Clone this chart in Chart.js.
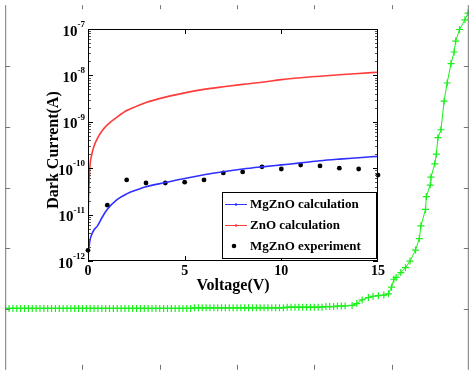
<!DOCTYPE html>
<html>
<head>
<meta charset="utf-8">
<script src="https://cdn.jsdelivr.net/npm/chart.js@4.4.0/dist/chart.umd.min.js"></script>
<style>
  html, body { margin: 0; padding: 0; background: #fff; }
  #wrap { position: relative; width: 474px; height: 375px; overflow: hidden; }
  #wrap canvas { position: absolute; left: 0; top: 0; }
</style>
</head>
<body>
<div id="wrap">
  <canvas id="outerChart" width="474" height="375"></canvas>
  <canvas id="innerChart" width="474" height="375"></canvas>
</div>
<script>
        // outer trace (only the curve and the bare axes are visible in the crop)
        const outerV = [
            0, 0.05, 0.1, 0.15, 0.2, 0.25, 0.3, 0.35, 0.4, 0.45, 0.5, 0.55, 0.6, 0.65, 0.7, 0.75, 0.8, 0.85, 0.9, 0.95,
            1.0, 1.05, 1.1, 1.15, 1.2, 1.25, 1.3, 1.35, 1.4, 1.45, 1.5, 1.55, 1.6, 1.65, 1.7, 1.75, 1.8, 1.85, 1.9, 1.95,
            2.0, 2.05, 2.1, 2.15, 2.2, 2.25, 2.3, 2.35, 2.4, 2.45, 2.5, 2.55, 2.6, 2.65, 2.7, 2.75, 2.8, 2.85, 2.9, 2.95,
            3.0, 3.05, 3.1, 3.15, 3.2, 3.25, 3.3, 3.35, 3.4, 3.45, 3.5, 3.55, 3.6, 3.65, 3.7, 3.75, 3.8, 3.85, 3.9, 3.95,
            4.0, 4.05, 4.1, 4.15, 4.2, 4.25, 4.3, 4.35, 4.4,
            4.49, 4.55, 4.62, 4.7, 4.76, 4.83, 4.9, 4.96, 5.0, 5.03, 5.06, 5.12, 5.18, 5.24, 5.31, 5.36, 5.38,
            5.44, 5.45, 5.5, 5.51, 5.56, 5.58, 5.6, 5.64, 5.68, 5.72, 5.77, 5.81, 5.83, 5.88, 5.95, 5.99, 6.04];
        const outerI = [
            1.01, 1.01, 1.01, 1.01, 1.01, 1.01, 1.01, 1.01, 1.01, 1.01, 1.01, 1.01, 1.01, 1.01, 1.01, 1.01, 1.01, 1.01, 1.01, 1.01,
            1.01, 1.01, 1.01, 1.01, 1.01, 1.01, 1.01, 1.01, 1.01, 1.01, 1.01, 1.01, 1.01, 1.01, 1.01, 1.01, 1.01, 1.01, 1.01, 1.01,
            1.01, 1.01, 1.01, 1.01, 1.01, 1.01, 1.01, 1.01, 1.01, 1.02, 1.02, 1.02, 1.02, 1.02, 1.02, 1.02, 1.02, 1.02, 1.02, 1.02,
            1.02, 1.02, 1.02, 1.02, 1.02, 1.02, 1.02, 1.02, 1.02, 1.02, 1.02, 1.02, 1.02, 1.03, 1.03, 1.03, 1.03, 1.03, 1.03, 1.03,
            1.03, 1.03, 1.03, 1.04, 1.04, 1.04, 1.05, 1.05, 1.05,
            1.06, 1.09, 1.15, 1.19, 1.21, 1.22, 1.23, 1.25, 1.36, 1.49, 1.52, 1.6, 1.68, 1.79, 1.97, 2.16, 2.37,
            2.64, 2.85, 3.04, 3.17, 3.39, 3.55, 3.82, 3.95, 4.42, 4.72, 5.04, 5.23, 5.41, 5.6, 5.76, 5.87, 6.0];
        const outerXTicks = [1, 2, 3, 4, 5];
        const outerYTicks = [1, 2, 3, 4, 5];

        // inset: dark current vs voltage
        const calcV = [0, 0.01, 0.02, 0.05, 0.1, 0.2, 0.3, 0.5, 0.75, 1, 1.5, 2, 2.5, 3, 4, 5, 6, 7, 8, 9, 10, 11, 12, 13, 14, 15];
        const mgznoCalc = [1.1e-12, 1.5e-12, 1.7e-12, 2.0e-12, 2.8e-12, 3.8e-12, 4.6e-12, 5.8e-12, 9e-12, 1.3e-11, 2.1e-11,
            2.8e-11, 3.4e-11, 4.0e-11, 4.9e-11, 6.0e-11, 7.2e-11, 8.4e-11, 9.6e-11, 1.07e-10, 1.18e-10, 1.3e-10,
            1.45e-10, 1.57e-10, 1.68e-10, 1.8e-10];
        const znoCalc = [1.0e-12, 8e-12, 1.6e-11, 4.0e-11, 1.1e-10, 2.0e-10, 2.9e-10, 4.5e-10, 6.6e-10, 8.6e-10, 1.26e-9,
            1.75e-9, 2.15e-9, 2.6e-9, 3.4e-9, 4.2e-9, 5.0e-9, 5.7e-9, 6.4e-9, 7.1e-9, 8.1e-9, 8.9e-9, 9.6e-9,
            1.03e-8, 1.1e-8, 1.17e-8];
        const expV = [0, 1, 2, 3, 4, 5, 6, 7, 8, 9, 10, 11, 12, 13, 14, 15];
        const mgznoExp = [1.7e-12, 1.6e-11, 5.6e-11, 4.8e-11, 4.8e-11, 5.0e-11, 5.6e-11, 7.9e-11, 8.3e-11, 1.07e-10,
            9.6e-11, 1.17e-10, 1.12e-10, 1.0e-10, 9.6e-11, 7.1e-11];
        const insetXTicks = [0, 5, 10, 15];
        const insetYExponents = [-12, -11, -10, -9, -8, -7];
        const legendLabels = ['MgZnO calculation', 'ZnO calculation', 'MgZnO experiment'];

        const BLUE = '#2f2fff';
        const RED = '#ff3b3b';
        const GREEN = '#19f019';
        const SERIF = '"Liberation Serif", "Times New Roman", serif';

        const toPoints = (xs, ys) => xs.map((x, i) => ({ x: x, y: ys[i] }));

        // bare grey frame with inward ticks, like the cropped MATLAB axes
        const outerFrame = {
            id: 'outerFrame',
            afterDraw(chart) {
                const { ctx, chartArea: a, scales } = chart;
                ctx.save();
                ctx.strokeStyle = '#767676';
                ctx.lineWidth = 1;
                ctx.beginPath();
                ctx.moveTo(a.left + 0.5, a.top); ctx.lineTo(a.left + 0.5, a.bottom);
                ctx.moveTo(a.right - 0.5, a.top); ctx.lineTo(a.right - 0.5, a.bottom);
                outerXTicks.forEach(v => {
                    const x = Math.round(scales.x.getPixelForValue(v)) + 0.5;
                    ctx.moveTo(x, a.top); ctx.lineTo(x, a.top + 4);
                    ctx.moveTo(x, a.bottom); ctx.lineTo(x, a.bottom - 5);
                });
                outerYTicks.forEach(v => {
                    const y = Math.round(scales.y.getPixelForValue(v)) + 0.5;
                    ctx.moveTo(a.left, y); ctx.lineTo(a.left + 5, y);
                    ctx.moveTo(a.right, y); ctx.lineTo(a.right - 5, y);
                });
                ctx.stroke();
                ctx.restore();
            }
        };

        new Chart(document.getElementById('outerChart'), {
            type: 'line',
            data: {
                datasets: [{
                    data: toPoints(outerV, outerI),
                    borderColor: GREEN,
                    borderWidth: 1,
                    pointStyle: 'cross',
                    pointRadius: 3.5,
                    pointBorderColor: GREEN,
                    pointBorderWidth: 1.2,
                    fill: false,
                    tension: 0
                }]
            },
            options: {
                responsive: false,
                animation: false,
                events: [],
                layout: { padding: { left: 3, right: 3, top: 0, bottom: 0 } },
                plugins: { legend: { display: false }, tooltip: { enabled: false } },
                scales: {
                    x: { type: 'linear', min: 0, max: 6, display: false },
                    y: { type: 'linear', min: 0, max: 6, display: false }
                }
            },
            plugins: [outerFrame]
        });

        // inset axes: white box, black frame, log ticks, labels and legend
        const insetFrame = {
            id: 'insetFrame',
            beforeDraw(chart) {
                const { ctx, chartArea: a } = chart;
                ctx.save();
                ctx.fillStyle = '#fff';
                ctx.fillRect(a.left, a.top, a.right - a.left, a.bottom - a.top);
                ctx.restore();
            },
            afterDraw(chart) {
                const { ctx, chartArea: a, scales } = chart;
                const xs = scales.x, ys = scales.y;
                ctx.save();
                ctx.strokeStyle = '#000';
                ctx.lineWidth = 1;
                ctx.beginPath();
                insetXTicks.slice(1, -1).forEach(v => {
                    const x = Math.round(xs.getPixelForValue(v)) + 0.5;
                    ctx.moveTo(x, a.bottom); ctx.lineTo(x, a.bottom - 5);
                    ctx.moveTo(x, a.top); ctx.lineTo(x, a.top + 5);
                });
                insetYExponents.forEach(e => {
                    const y = Math.round(ys.getPixelForValue(Math.pow(10, e))) + 0.5;
                    ctx.moveTo(a.left, y); ctx.lineTo(a.left + 5, y);
                    ctx.moveTo(a.right, y); ctx.lineTo(a.right - 5, y);
                });
                ctx.stroke();
                ctx.strokeStyle = '#555';
                ctx.beginPath();
                insetYExponents.slice(0, -1).forEach(e => {
                    for (let m = 2; m <= 9; m++) {
                        const y = Math.round(ys.getPixelForValue(m * Math.pow(10, e))) + 0.5;
                        ctx.moveTo(a.left, y); ctx.lineTo(a.left + 3, y);
                        ctx.moveTo(a.right, y); ctx.lineTo(a.right - 3, y);
                    }
                });
                ctx.stroke();
                ctx.strokeStyle = '#000';
                ctx.strokeRect(a.left + 0.5, a.top + 0.5, a.right - a.left - 1, a.bottom - a.top - 1);

                // tick labels
                ctx.fillStyle = '#000';
                ctx.textBaseline = 'alphabetic';
                ctx.font = 'bold 14px ' + SERIF;
                ctx.textAlign = 'center';
                insetXTicks.forEach(v => {
                    ctx.fillText(String(v), xs.getPixelForValue(v), a.bottom + 14);
                });
                insetYExponents.forEach(e => {
                    const y = ys.getPixelForValue(Math.pow(10, e));
                    const right = a.left - 3;
                    ctx.textAlign = 'right';
                    ctx.font = 'bold 9px ' + SERIF;
                    const sup = String(e);
                    const ws = ctx.measureText(sup).width;
                    ctx.fillText(sup, right, y - 2);
                    ctx.font = 'bold 15px ' + SERIF;
                    ctx.fillText('10', right - ws, y + 6.5);
                });

                // axis titles
                ctx.font = 'bold 16px ' + SERIF;
                ctx.textAlign = 'center';
                ctx.fillText('Voltage(V)', (a.left + a.right) / 2, a.bottom + 29);
                ctx.save();
                ctx.translate(54, (a.top + a.bottom) / 2 + 5);
                ctx.rotate(-Math.PI / 2);
                ctx.textBaseline = 'middle';
                ctx.fillText('Dark Current(A)', 0, 0);
                ctx.restore();

                // legend box
                const lx = 222, ly = 192, lw = 154, lh = 66;
                ctx.fillStyle = '#fff';
                ctx.fillRect(lx, ly, lw, lh);
                ctx.strokeStyle = '#000';
                ctx.strokeRect(lx + 0.5, ly + 0.5, lw, lh);
                const rows = [ly + 12, ly + 33, ly + 54];
                const colors = [BLUE, RED, '#000'];
                ctx.font = 'bold 13px ' + SERIF;
                ctx.textAlign = 'left';
                ctx.textBaseline = 'middle';
                legendLabels.forEach((label, i) => {
                    const y = rows[i];
                    ctx.fillStyle = colors[i];
                    ctx.strokeStyle = colors[i];
                    if (i < 2) {
                        ctx.beginPath();
                        ctx.moveTo(lx + 3, y + 0.5); ctx.lineTo(lx + 25, y + 0.5);
                        ctx.stroke();
                        ctx.beginPath();
                        ctx.arc(lx + 14, y + 0.5, 1.3, 0, Math.PI * 2);
                        ctx.fill();
                    } else {
                        ctx.beginPath();
                        ctx.arc(lx + 12, y, 2.3, 0, Math.PI * 2);
                        ctx.fill();
                    }
                    ctx.fillStyle = '#000';
                    ctx.fillText(label, lx + 28, y + 1);
                });
                ctx.restore();
            }
        };

        new Chart(document.getElementById('innerChart'), {
            type: 'line',
            data: {
                datasets: [
                    {
                        label: legendLabels[0],
                        data: toPoints(calcV, mgznoCalc),
                        borderColor: BLUE,
                        borderWidth: 1.6,
                        pointRadius: 0,
                        cubicInterpolationMode: 'monotone',
                        fill: false
                    },
                    {
                        label: legendLabels[1],
                        data: toPoints(calcV, znoCalc),
                        borderColor: RED,
                        borderWidth: 1.6,
                        pointRadius: 0,
                        cubicInterpolationMode: 'monotone',
                        fill: false
                    },
                    {
                        label: legendLabels[2],
                        data: toPoints(expV, mgznoExp),
                        showLine: false,
                        pointRadius: 2.4,
                        pointBackgroundColor: '#000',
                        pointBorderColor: '#000',
                        pointBorderWidth: 0,
                        clip: false
                    }
                ]
            },
            options: {
                responsive: false,
                animation: false,
                events: [],
                layout: { padding: { left: 88, top: 29, right: 96, bottom: 114 } },
                plugins: { legend: { display: false }, tooltip: { enabled: false } },
                scales: {
                    x: { type: 'linear', min: 0, max: 15, display: false },
                    y: { type: 'logarithmic', min: 1e-12, max: 1e-7, display: false }
                }
            },
            plugins: [insetFrame]
        });
</script>
</body>
</html>
